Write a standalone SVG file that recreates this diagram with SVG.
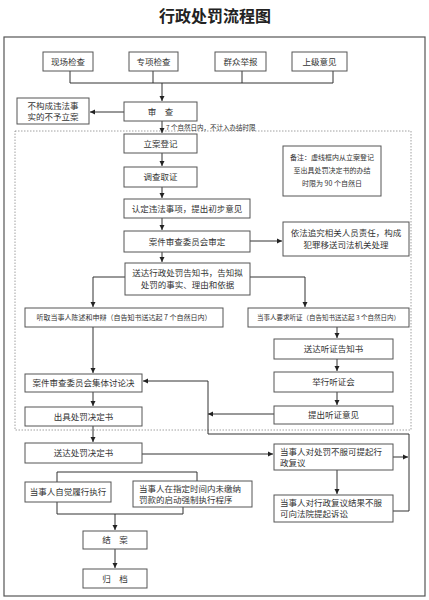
<svg xmlns="http://www.w3.org/2000/svg" width="429" height="600" viewBox="0 0 429 600">
<defs>
<marker id="ah" markerWidth="6" markerHeight="6" refX="5" refY="3" orient="auto" markerUnits="userSpaceOnUse">
<path d="M0,0.5 L5,3 L0,5.5 Z" fill="#222"/>
</marker>
<style>
.b{fill:#fff;stroke:#555;stroke-width:1}
.t{font-family:"Noto Sans CJK SC","Liberation Serif",serif;font-size:8.5px;fill:#333;text-anchor:middle}
.s{font-size:7px}
.xs{font-size:6.5px}
.l{text-anchor:start}
.c{fill:none;stroke:#333;stroke-width:1}
.ca{fill:none;stroke:#333;stroke-width:1;marker-end:url(#ah)}
</style>
</defs>
<rect width="429" height="600" fill="#fff"/>
<text x="215" y="22" font-family="Noto Sans CJK SC, sans-serif" font-size="16" font-weight="bold" fill="#222" text-anchor="middle">行政处罚流程图</text>
<rect x="4" y="37" width="421" height="559" fill="none" stroke="#555" stroke-width="1.2"/>
<rect x="15" y="131" width="396" height="299" fill="none" stroke="#888" stroke-width="0.8" stroke-dasharray="1.5,1.5"/>

<g id="connectors">
<path class="c" d="M70,71 V83 M153,71 V83 M242,71 V83 M333,71 V83 M70,83 H333"/>
<path class="ca" d="M162,83 V101"/>
<path class="ca" d="M124,112 H90"/>
<path class="ca" d="M162,121 V133"/>
<path class="ca" d="M162,153 V166"/>
<path class="ca" d="M162,187 V198"/>
<path class="ca" d="M162,218 V230"/>
<path class="ca" d="M250,241 H282"/>
<path class="ca" d="M162,252 V262"/>
<path class="ca" d="M125,277 H93 V307"/>
<path class="ca" d="M250,277 H305 V307"/>
<path class="ca" d="M337,327 V338"/>
<path class="ca" d="M337,359 V371"/>
<path class="ca" d="M337,392 V405"/>
<path class="ca" d="M274,414 H208"/>
<path class="ca" d="M93,327 V373"/>
<path class="ca" d="M93,392 V406"/>
<path class="ca" d="M93,426 V442"/>
<path class="ca" d="M142,454 H273"/>
<path class="ca" d="M393,457 H408"/>
<path class="ca" d="M337,470 V494"/>
<path class="ca" d="M393,511 H409 V434 H208 V381 H143"/>
<path class="c" d="M57,482 V472 H197 V481"/>
<path class="c" d="M57,502 V514 H183 V507"/>
<path class="ca" d="M115,514 V530"/>
<path class="ca" d="M115,549 V568"/>
</g>
<text class="t xs l" x="166" y="130">7 个自然日内，不计入办结时限</text>

<g id="n1"><rect class="b" x="43" y="52" width="50" height="19"/><text class="t" x="68" y="64.5">现场检查</text></g>
<g id="n2"><rect class="b" x="129" y="52" width="49" height="19"/><text class="t" x="153.5" y="64.5">专项检查</text></g>
<g id="n3"><rect class="b" x="215" y="52" width="51" height="19"/><text class="t" x="240.5" y="64.5">群众举报</text></g>
<g id="n4"><rect class="b" x="292" y="52" width="55" height="19"/><text class="t" x="319.5" y="64.5">上级意见</text></g>
<g id="shencha"><rect class="b" x="124" y="102" width="73" height="19"/><text class="t" x="160.5" y="114.5">审　查</text></g>
<g id="buliyan"><rect class="b" x="17" y="98" width="72" height="26"/><text class="t" x="53" y="109">不构成违法事</text><text class="t" x="53" y="120">实的不予立案</text></g>
<g id="lian"><rect class="b" x="124" y="134" width="73" height="19"/><text class="t" x="160.5" y="146.5">立案登记</text></g>
<g id="diaocha"><rect class="b" x="124" y="167" width="73" height="20"/><text class="t" x="160.5" y="180">调查取证</text></g>
<g id="rending"><rect class="b" x="124" y="199" width="126" height="19"/><text class="t" x="187" y="211.5">认定违法事项，提出初步意见</text></g>
<g id="shending"><rect class="b" x="124" y="231" width="126" height="21"/><text class="t" x="187" y="244.5">案件审查委员会审定</text></g>
<g id="note"><rect class="b" x="283" y="146" width="98" height="50"/><text class="t s" x="332" y="160">备注：虚线框内从立案登记</text><text class="t s" x="332" y="173">至出具处罚决定书的办结</text><text class="t s" x="332" y="186">时限为 90 个自然日</text></g>
<g id="zhuijiu"><rect class="b" x="283" y="222" width="126" height="34"/><text class="t" x="346" y="236">依法追究相关人员责任，构成</text><text class="t" x="346" y="248">犯罪移送司法机关处理</text></g>
<g id="gaozhi"><rect class="b" x="125" y="263" width="125" height="32"/><text class="t" x="187.5" y="276">送达行政处罚告知书，告知拟</text><text class="t" x="187.5" y="288">处罚的事实、理由和依据</text></g>
<g id="tingqu"><rect class="b" x="25" y="308" width="198" height="19"/><text class="t s" x="124" y="320">听取当事人陈述和申辩（自告知书送达起 7 个自然日内）</text></g>
<g id="yaoqiu"><rect class="b" x="248" y="308" width="161" height="19"/><text class="t xs" x="328.5" y="320">当事人要求听证（自告知书送达起 3 个自然日内）</text></g>
<g id="songting"><rect class="b" x="274" y="339" width="119" height="20"/><text class="t" x="333.5" y="352">送达听证告知书</text></g>
<g id="juxing"><rect class="b" x="274" y="372" width="119" height="20"/><text class="t" x="333.5" y="385">举行听证会</text></g>
<g id="tichu"><rect class="b" x="274" y="406" width="119" height="18"/><text class="t" x="333.5" y="418">提出听证意见</text></g>
<g id="jiti"><rect class="b" x="25" y="374" width="117" height="18"/><text class="t" x="83.5" y="386">案件审查委员会集体讨论决</text></g>
<g id="chuju"><rect class="b" x="25" y="407" width="117" height="19"/><text class="t" x="83.5" y="419.5">出具处罚决定书</text></g>
<g id="songda"><rect class="b" x="25" y="443" width="117" height="20"/><text class="t" x="83.5" y="456">送达处罚决定书</text></g>
<g id="fuyi"><rect class="b" x="274" y="444" width="119" height="26"/><text class="t l" x="280" y="455">当事人对处罚不服可提起行</text><text class="t l" x="280" y="466">政复议</text></g>
<g id="susong"><rect class="b" x="274" y="495" width="119" height="27"/><text class="t l" x="280" y="506">当事人对行政复议结果不服</text><text class="t l" x="280" y="517">可向法院提起诉讼</text></g>
<g id="zijue"><rect class="b" x="25" y="482" width="86" height="20"/><text class="t" x="68" y="495">当事人自觉履行执行</text></g>
<g id="qiangzhi"><rect class="b" x="133" y="481" width="119" height="26"/><text class="t l" x="139" y="492">当事人在指定时间内未缴纳</text><text class="t l" x="139" y="503">罚款的启动强制执行程序</text></g>
<g id="jiean"><rect class="b" x="83" y="531" width="64" height="18"/><text class="t" x="115" y="543">结　案</text></g>
<g id="guidang"><rect class="b" x="83" y="569" width="64" height="19"/><text class="t" x="115" y="581.5">归　档</text></g>
</svg>
